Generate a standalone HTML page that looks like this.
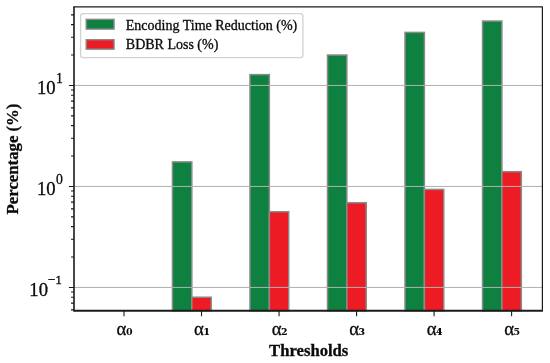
<!DOCTYPE html>
<html><head><meta charset="utf-8"><title>Chart</title><style>html,body{margin:0;padding:0;background:#fff}</style></head><body>
<svg width="550" height="363" viewBox="0 0 550 363" style="display:block">
<rect width="550" height="363" fill="#fff"/>
<rect x="172.45" y="161.89" width="19.38" height="148.86" fill="#0e8141" stroke="#8a8a8a" stroke-width="1.5"/>
<rect x="191.83" y="297.23" width="19.38" height="13.52" fill="#ed1c24" stroke="#8a8a8a" stroke-width="1.5"/>
<rect x="249.97" y="74.61" width="19.38" height="236.14" fill="#0e8141" stroke="#8a8a8a" stroke-width="1.5"/>
<rect x="269.35" y="211.72" width="19.38" height="99.03" fill="#ed1c24" stroke="#8a8a8a" stroke-width="1.5"/>
<rect x="327.49" y="55.04" width="19.38" height="255.71" fill="#0e8141" stroke="#8a8a8a" stroke-width="1.5"/>
<rect x="346.87" y="202.72" width="19.38" height="108.03" fill="#ed1c24" stroke="#8a8a8a" stroke-width="1.5"/>
<rect x="405.01" y="32.41" width="19.38" height="278.34" fill="#0e8141" stroke="#8a8a8a" stroke-width="1.5"/>
<rect x="424.39" y="189.43" width="19.38" height="121.32" fill="#ed1c24" stroke="#8a8a8a" stroke-width="1.5"/>
<rect x="482.53" y="21.05" width="19.38" height="289.70" fill="#0e8141" stroke="#8a8a8a" stroke-width="1.5"/>
<rect x="501.91" y="171.68" width="19.38" height="139.07" fill="#ed1c24" stroke="#8a8a8a" stroke-width="1.5"/>
<line x1="74.0" x2="542.4" y1="287.44" y2="287.44" stroke="#b0b0b0" stroke-width="1"/>
<line x1="74.0" x2="542.4" y1="186.44" y2="186.44" stroke="#b0b0b0" stroke-width="1"/>
<line x1="74.0" x2="542.4" y1="85.44" y2="85.44" stroke="#b0b0b0" stroke-width="1"/>
<path d="M68.90 287.44H74.0 M68.90 186.44H74.0 M68.90 85.44H74.0 M71.00 309.85H74.0 M71.00 303.09H74.0 M71.00 297.23H74.0 M71.00 292.06H74.0 M71.00 257.04H74.0 M71.00 239.25H74.0 M71.00 226.63H74.0 M71.00 216.84H74.0 M71.00 208.85H74.0 M71.00 202.09H74.0 M71.00 196.23H74.0 M71.00 191.06H74.0 M71.00 156.04H74.0 M71.00 138.25H74.0 M71.00 125.63H74.0 M71.00 115.84H74.0 M71.00 107.85H74.0 M71.00 101.09H74.0 M71.00 95.23H74.0 M71.00 90.06H74.0 M71.00 55.04H74.0 M71.00 37.25H74.0 M71.00 24.63H74.0 M71.00 14.84H74.0 M124.00 310.75V316.35 M201.52 310.75V316.35 M279.04 310.75V316.35 M356.56 310.75V316.35 M434.08 310.75V316.35 M511.60 310.75V316.35" stroke="#1a1a1a" stroke-width="1.1" fill="none"/>
<path d="M74.0 6.9V310.75" stroke="#1a1a1a" stroke-width="1.6" fill="none"/>
<path d="M73.2 310.75H542.9" stroke="#1a1a1a" stroke-width="1.8" fill="none"/>
<path d="M73.2 6.9H542.9" stroke="#1a1a1a" stroke-width="1.2" fill="none"/>
<path d="M542.4 6.9V310.75" stroke="#1a1a1a" stroke-width="1.2" fill="none"/>
<rect x="80.6" y="13.7" width="222.3" height="43.85" rx="2.6" ry="2.6" fill="#fff" fill-opacity="0.8" stroke="#d2d2d2" stroke-width="1.3"/>
<rect x="86.2" y="19.35" width="27.85" height="9.75" fill="#0e8141" stroke="#8a8a8a" stroke-width="1.4"/>
<rect x="86.2" y="39.7" width="27.85" height="9.45" fill="#ed1c24" stroke="#8a8a8a" stroke-width="1.4"/>
<text x="125.8" y="29.8" font-family="'Liberation Serif','Times New Roman',serif" font-size="14" fill="#0a0a0a" stroke="#0a0a0a" stroke-width="0.3">Encoding Time Reduction (%)</text>
<text x="125.8" y="49.2" font-family="'Liberation Serif','Times New Roman',serif" font-size="14" fill="#0a0a0a" stroke="#0a0a0a" stroke-width="0.3">BDBR Loss (%)</text>
<text x="37.0" y="93.54" font-family="'Liberation Serif','Times New Roman',serif" font-size="18.67" fill="#0a0a0a" stroke="#0a0a0a" stroke-width="0.3">10<tspan x="56.0" dy="-10.9" font-size="13.7">1</tspan></text>
<text x="37.0" y="194.54" font-family="'Liberation Serif','Times New Roman',serif" font-size="18.67" fill="#0a0a0a" stroke="#0a0a0a" stroke-width="0.3">10<tspan x="56.0" dy="-10.9" font-size="13.7">0</tspan></text>
<text x="29.3" y="295.54" font-family="'Liberation Serif','Times New Roman',serif" font-size="18.67" fill="#0a0a0a" stroke="#0a0a0a" stroke-width="0.3">10<tspan x="47.7" dy="-11.2" font-size="13.3">−1</tspan></text>
<text x="116.60" y="334.7" font-family="'Liberation Serif','Times New Roman',serif" font-size="18.67" fill="#0a0a0a" stroke="#0a0a0a" stroke-width="0.3">α<tspan font-family="'DejaVu Serif',serif" font-weight="bold" font-size="15" stroke="none" dx="-0.5">₀</tspan></text>
<text x="194.12" y="334.7" font-family="'Liberation Serif','Times New Roman',serif" font-size="18.67" fill="#0a0a0a" stroke="#0a0a0a" stroke-width="0.3">α<tspan font-family="'DejaVu Serif',serif" font-weight="bold" font-size="15" stroke="none" dx="-0.5">₁</tspan></text>
<text x="271.64" y="334.7" font-family="'Liberation Serif','Times New Roman',serif" font-size="18.67" fill="#0a0a0a" stroke="#0a0a0a" stroke-width="0.3">α<tspan font-family="'DejaVu Serif',serif" font-weight="bold" font-size="15" stroke="none" dx="-0.5">₂</tspan></text>
<text x="349.16" y="334.7" font-family="'Liberation Serif','Times New Roman',serif" font-size="18.67" fill="#0a0a0a" stroke="#0a0a0a" stroke-width="0.3">α<tspan font-family="'DejaVu Serif',serif" font-weight="bold" font-size="15" stroke="none" dx="-0.5">₃</tspan></text>
<text x="426.68" y="334.7" font-family="'Liberation Serif','Times New Roman',serif" font-size="18.67" fill="#0a0a0a" stroke="#0a0a0a" stroke-width="0.3">α<tspan font-family="'DejaVu Serif',serif" font-weight="bold" font-size="15" stroke="none" dx="-0.5">₄</tspan></text>
<text x="504.20" y="334.7" font-family="'Liberation Serif','Times New Roman',serif" font-size="18.67" fill="#0a0a0a" stroke="#0a0a0a" stroke-width="0.3">α<tspan font-family="'DejaVu Serif',serif" font-weight="bold" font-size="15" stroke="none" dx="-0.5">₅</tspan></text>
<text x="308.7" y="355.5" text-anchor="middle" font-family="'Liberation Serif','Times New Roman',serif" font-size="16.65" font-weight="bold" fill="#0a0a0a" stroke="#0a0a0a" stroke-width="0.3">Thresholds</text>
<text transform="translate(18.3 159.0) rotate(-90)" text-anchor="middle" font-family="'Liberation Serif','Times New Roman',serif" font-size="16.75" font-weight="bold" fill="#0a0a0a" stroke="#0a0a0a" stroke-width="0.3">Percentage (%)</text>
</svg>
</body></html>
